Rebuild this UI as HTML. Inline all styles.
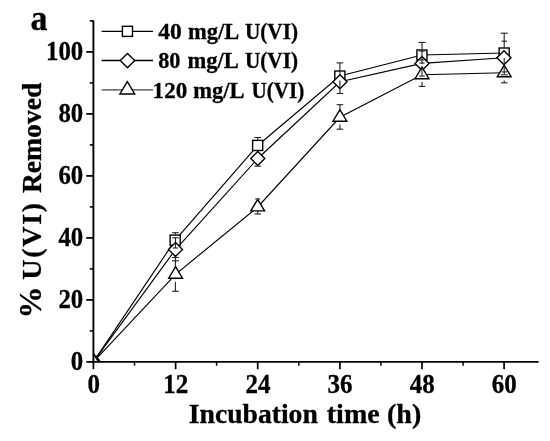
<!DOCTYPE html><html><head><meta charset="utf-8"><title>a</title><style>html,body{margin:0;padding:0;background:#fff}svg{display:block}text{font-family:"Liberation Serif",serif;font-weight:bold;fill:#000;stroke:#000;stroke-width:0.3px}</style></head><body>
<svg width="550" height="441" viewBox="0 0 550 441">
<rect width="550" height="441" fill="#fff"/>
<polyline fill="none" stroke="#000" stroke-width="1.15" points="93.4,361.9 175.2,240.2 257.7,145.5 339.9,76.0 422.0,55.0 504.2,53.0"/>
<polyline fill="none" stroke="#000" stroke-width="1.15" points="93.4,361.9 175.5,249.5 257.8,158.5 340.0,81.8 422.0,63.4 504.0,57.7"/>
<polyline fill="none" stroke="#000" stroke-width="1.15" points="93.4,361.9 175.6,274.3 257.7,207.0 339.9,117.3 422.0,74.8 504.2,72.8"/>
<clipPath id="c"><rect x="93.4" y="340" width="30" height="21.9"/></clipPath>
<polygon points="94.4,354.9 101.3,366.5 87.5,366.5" fill="#fff" stroke="#000" stroke-width="1.40" clip-path="url(#c)"/>
<line x1="95.4" y1="356" x2="99.8" y2="361.6" stroke="#000" stroke-width="2.2" clip-path="url(#c)"/>
<rect x="170.1" y="235.1" width="10.1" height="10.1" fill="#fff" stroke="#000" stroke-width="1.40"/>
<rect x="252.6" y="140.4" width="10.1" height="10.1" fill="#fff" stroke="#000" stroke-width="1.40"/>
<rect x="334.8" y="71.0" width="10.1" height="10.1" fill="#fff" stroke="#000" stroke-width="1.40"/>
<rect x="416.9" y="50.0" width="10.1" height="10.1" fill="#fff" stroke="#000" stroke-width="1.40"/>
<rect x="499.1" y="48.0" width="10.1" height="10.1" fill="#fff" stroke="#000" stroke-width="1.40"/>
<polygon points="175.5,242.5 182.5,249.5 175.5,256.5 168.5,249.5" fill="#fff" stroke="#000" stroke-width="1.40"/>
<polygon points="257.8,151.5 264.8,158.5 257.8,165.5 250.8,158.5" fill="#fff" stroke="#000" stroke-width="1.40"/>
<polygon points="340.0,74.8 347.0,81.8 340.0,88.8 333.0,81.8" fill="#fff" stroke="#000" stroke-width="1.40"/>
<polygon points="422.0,56.4 429.0,63.4 422.0,70.4 415.0,63.4" fill="#fff" stroke="#000" stroke-width="1.40"/>
<polygon points="504.0,50.7 511.0,57.7 504.0,64.7 497.0,57.7" fill="#fff" stroke="#000" stroke-width="1.40"/>
<polygon points="175.6,266.6 182.5,278.2 168.7,278.2" fill="#fff" stroke="#000" stroke-width="1.40" />
<polygon points="257.7,199.3 264.6,210.9 250.8,210.9" fill="#fff" stroke="#000" stroke-width="1.40" />
<polygon points="339.9,109.6 346.8,121.2 333.0,121.2" fill="#fff" stroke="#000" stroke-width="1.40" />
<polygon points="422.0,67.1 428.9,78.7 415.1,78.7" fill="#fff" stroke="#000" stroke-width="1.40" />
<polygon points="504.2,65.1 511.1,76.7 497.3,76.7" fill="#fff" stroke="#000" stroke-width="1.40" />
<line x1="172.1" y1="232.7" x2="178.7" y2="232.7" stroke="#222" stroke-width="1.10"/>
<line x1="175.4" y1="232.7" x2="175.4" y2="234.7" stroke="#222" stroke-width="1.10"/>
<line x1="172.1" y1="237.8" x2="178.7" y2="237.8" stroke="#222" stroke-width="1.10"/>
<line x1="175.4" y1="237.8" x2="175.4" y2="242.3" stroke="#222" stroke-width="1.10"/>
<line x1="175.4" y1="243.0" x2="175.4" y2="248.0" stroke="#222" stroke-width="1.10"/>
<line x1="172.8" y1="248.0" x2="178.0" y2="248.0" stroke="#222" stroke-width="1.10"/>
<line x1="175.4" y1="256.6" x2="175.4" y2="266.6" stroke="#222" stroke-width="1.10"/>
<line x1="171.9" y1="257.5" x2="178.9" y2="257.5" stroke="#222" stroke-width="1.10"/>
<line x1="171.9" y1="260.8" x2="178.9" y2="260.8" stroke="#222" stroke-width="1.10"/>
<line x1="175.4" y1="281.8" x2="175.4" y2="291.3" stroke="#222" stroke-width="1.10"/>
<line x1="172.1" y1="291.3" x2="178.7" y2="291.3" stroke="#222" stroke-width="1.10"/>
<line x1="254.4" y1="137.5" x2="261.0" y2="137.5" stroke="#222" stroke-width="1.10"/>
<line x1="257.7" y1="137.5" x2="257.7" y2="140.2" stroke="#222" stroke-width="1.10"/>
<line x1="254.4" y1="166.2" x2="261.0" y2="166.2" stroke="#222" stroke-width="1.10"/>
<line x1="257.7" y1="165.6" x2="257.7" y2="166.2" stroke="#222" stroke-width="1.10"/>
<line x1="255.2" y1="198.9" x2="260.2" y2="198.9" stroke="#222" stroke-width="1.10"/>
<line x1="257.7" y1="211.0" x2="257.7" y2="214.0" stroke="#222" stroke-width="1.10"/>
<line x1="254.4" y1="214.0" x2="261.0" y2="214.0" stroke="#222" stroke-width="1.10"/>
<line x1="336.6" y1="62.9" x2="343.2" y2="62.9" stroke="#222" stroke-width="1.10"/>
<line x1="339.9" y1="62.9" x2="339.9" y2="74.6" stroke="#222" stroke-width="1.10"/>
<line x1="339.9" y1="80.6" x2="339.9" y2="93.5" stroke="#222" stroke-width="1.10"/>
<line x1="336.6" y1="93.5" x2="343.2" y2="93.5" stroke="#222" stroke-width="1.10"/>
<line x1="336.6" y1="104.7" x2="343.2" y2="104.7" stroke="#222" stroke-width="1.10"/>
<line x1="339.9" y1="104.7" x2="339.9" y2="109.4" stroke="#222" stroke-width="1.10"/>
<line x1="339.9" y1="124.6" x2="339.9" y2="129.2" stroke="#222" stroke-width="1.10"/>
<line x1="336.6" y1="129.2" x2="343.2" y2="129.2" stroke="#222" stroke-width="1.10"/>
<line x1="418.4" y1="42.4" x2="425.6" y2="42.4" stroke="#222" stroke-width="1.10"/>
<line x1="422.0" y1="42.4" x2="422.0" y2="49.4" stroke="#222" stroke-width="1.10"/>
<line x1="419.2" y1="51.1" x2="424.8" y2="51.1" stroke="#222" stroke-width="1.10"/>
<line x1="422.0" y1="51.1" x2="422.0" y2="57.0" stroke="#222" stroke-width="1.10"/>
<line x1="419.4" y1="60.0" x2="424.6" y2="60.0" stroke="#222" stroke-width="1.10"/>
<line x1="419.4" y1="63.0" x2="424.6" y2="63.0" stroke="#222" stroke-width="1.10"/>
<line x1="422.0" y1="58.0" x2="422.0" y2="64.0" stroke="#222" stroke-width="1.10"/>
<line x1="422.0" y1="67.5" x2="422.0" y2="76.1" stroke="#222" stroke-width="1.10"/>
<line x1="419.2" y1="76.1" x2="424.8" y2="76.1" stroke="#222" stroke-width="1.10"/>
<line x1="422.0" y1="82.0" x2="422.0" y2="86.4" stroke="#222" stroke-width="1.10"/>
<line x1="418.7" y1="86.4" x2="425.3" y2="86.4" stroke="#222" stroke-width="1.10"/>
<line x1="500.7" y1="33.2" x2="507.7" y2="33.2" stroke="#222" stroke-width="1.10"/>
<line x1="504.2" y1="33.2" x2="504.2" y2="47.8" stroke="#222" stroke-width="1.10"/>
<line x1="501.4" y1="41.2" x2="507.0" y2="41.2" stroke="#222" stroke-width="1.10"/>
<line x1="504.2" y1="58.0" x2="504.2" y2="74.0" stroke="#222" stroke-width="1.10"/>
<line x1="501.4" y1="71.9" x2="507.0" y2="71.9" stroke="#222" stroke-width="1.10"/>
<line x1="500.6" y1="74.8" x2="507.8" y2="74.8" stroke="#222" stroke-width="1.10"/>
<line x1="504.2" y1="80.5" x2="504.2" y2="82.8" stroke="#222" stroke-width="1.10"/>
<line x1="500.9" y1="82.8" x2="507.5" y2="82.8" stroke="#222" stroke-width="1.10"/>
<line x1="93.4" y1="20.6" x2="93.4" y2="362.8" stroke="#000" stroke-width="1.9"/>
<line x1="92.4" y1="361.9" x2="538.6" y2="361.9" stroke="#000" stroke-width="1.9"/>
<line x1="86.3" y1="361.9" x2="93.4" y2="361.9" stroke="#000" stroke-width="1.8"/>
<line x1="89.8" y1="330.9" x2="93.4" y2="330.9" stroke="#000" stroke-width="1.6"/>
<line x1="86.3" y1="299.9" x2="93.4" y2="299.9" stroke="#000" stroke-width="1.8"/>
<line x1="89.8" y1="268.9" x2="93.4" y2="268.9" stroke="#000" stroke-width="1.6"/>
<line x1="86.3" y1="237.9" x2="93.4" y2="237.9" stroke="#000" stroke-width="1.8"/>
<line x1="89.8" y1="206.9" x2="93.4" y2="206.9" stroke="#000" stroke-width="1.6"/>
<line x1="86.3" y1="175.9" x2="93.4" y2="175.9" stroke="#000" stroke-width="1.8"/>
<line x1="89.8" y1="144.9" x2="93.4" y2="144.9" stroke="#000" stroke-width="1.6"/>
<line x1="86.3" y1="113.9" x2="93.4" y2="113.9" stroke="#000" stroke-width="1.8"/>
<line x1="89.8" y1="82.9" x2="93.4" y2="82.9" stroke="#000" stroke-width="1.6"/>
<line x1="86.3" y1="51.9" x2="93.4" y2="51.9" stroke="#000" stroke-width="1.8"/>
<line x1="89.8" y1="20.9" x2="93.4" y2="20.9" stroke="#000" stroke-width="1.6"/>
<line x1="93.4" y1="361.9" x2="93.4" y2="369.2" stroke="#000" stroke-width="1.7"/>
<line x1="134.5" y1="361.9" x2="134.5" y2="365.7" stroke="#000" stroke-width="1.5"/>
<line x1="175.6" y1="361.9" x2="175.6" y2="369.2" stroke="#000" stroke-width="1.7"/>
<line x1="216.6" y1="361.9" x2="216.6" y2="365.7" stroke="#000" stroke-width="1.5"/>
<line x1="257.7" y1="361.9" x2="257.7" y2="369.2" stroke="#000" stroke-width="1.7"/>
<line x1="298.8" y1="361.9" x2="298.8" y2="365.7" stroke="#000" stroke-width="1.5"/>
<line x1="339.9" y1="361.9" x2="339.9" y2="369.2" stroke="#000" stroke-width="1.7"/>
<line x1="380.9" y1="361.9" x2="380.9" y2="365.7" stroke="#000" stroke-width="1.5"/>
<line x1="422.0" y1="361.9" x2="422.0" y2="369.2" stroke="#000" stroke-width="1.7"/>
<line x1="463.1" y1="361.9" x2="463.1" y2="365.7" stroke="#000" stroke-width="1.5"/>
<line x1="504.1" y1="361.9" x2="504.1" y2="369.2" stroke="#000" stroke-width="1.7"/>
<text x="70.8" y="369.7" font-size="26.5" textLength="12.4" lengthAdjust="spacingAndGlyphs">0</text>
<text x="58.4" y="307.7" font-size="26.5" textLength="24.8" lengthAdjust="spacingAndGlyphs">20</text>
<text x="58.4" y="245.7" font-size="26.5" textLength="24.8" lengthAdjust="spacingAndGlyphs">40</text>
<text x="58.4" y="183.7" font-size="26.5" textLength="24.8" lengthAdjust="spacingAndGlyphs">60</text>
<text x="58.4" y="121.7" font-size="26.5" textLength="24.8" lengthAdjust="spacingAndGlyphs">80</text>
<text x="46.0" y="59.7" font-size="26.5" textLength="37.2" lengthAdjust="spacingAndGlyphs">100</text>
<text x="87.4" y="393.3" font-size="26.5" textLength="12.5" lengthAdjust="spacingAndGlyphs">0</text>
<text x="163.2" y="393.3" font-size="26.5" textLength="25.0" lengthAdjust="spacingAndGlyphs">12</text>
<text x="245.4" y="393.3" font-size="26.5" textLength="25.0" lengthAdjust="spacingAndGlyphs">24</text>
<text x="327.6" y="393.3" font-size="26.5" textLength="25.0" lengthAdjust="spacingAndGlyphs">36</text>
<text x="409.7" y="393.3" font-size="26.5" textLength="25.0" lengthAdjust="spacingAndGlyphs">48</text>
<text x="491.8" y="393.3" font-size="26.5" textLength="25.0" lengthAdjust="spacingAndGlyphs">60</text>
<text y="423.4" font-size="28"><tspan x="188.8" textLength="129" lengthAdjust="spacingAndGlyphs">Incubation</tspan> <tspan x="326.8">time</tspan> <tspan x="387">(h)</tspan></text>
<text transform="translate(40.9,316) rotate(-90)" font-size="28"><tspan x="-2.6" font-size="32">%</tspan> <tspan x="36.2" textLength="77" lengthAdjust="spacing">U(VI)</tspan> <tspan x="122.9" textLength="110.5" lengthAdjust="spacingAndGlyphs">Removed</tspan></text>
<text x="30.5" y="29.6" font-size="36" textLength="17" lengthAdjust="spacingAndGlyphs">a</text>
<line x1="101.6" y1="31.4" x2="153" y2="31.4" stroke="#000" stroke-width="1.4"/>
<line x1="101.6" y1="60.5" x2="153" y2="60.5" stroke="#000" stroke-width="1.4"/>
<line x1="101.6" y1="89.9" x2="153" y2="89.9" stroke="#777" stroke-width="1.6"/>
<rect x="122.4" y="26.3" width="10.1" height="10.1" fill="#fff" stroke="#000" stroke-width="1.40"/>
<polygon points="127.5,53.4 134.7,60.6 127.5,67.8 120.3,60.6" fill="#fff" stroke="#000" stroke-width="1.40"/>
<polygon points="127.3,81.7 134.7,94.0 119.9,94.0" fill="#fff" stroke="#000" stroke-width="1.40" />
<text y="39.1" font-size="22.5"><tspan x="158.3" font-size="23.5">40</tspan> <tspan x="188">mg/L</tspan> <tspan x="245" textLength="53" lengthAdjust="spacingAndGlyphs">U(VI)</tspan></text>
<text y="68.3" font-size="22.5"><tspan x="158.2" font-size="23.5" textLength="22.3" lengthAdjust="spacingAndGlyphs">80</tspan> <tspan x="187.6">mg/L</tspan> <tspan x="245" textLength="53" lengthAdjust="spacingAndGlyphs">U(VI)</tspan></text>
<text y="97.6" font-size="22.5"><tspan x="152.6" font-size="23.5" textLength="34.6" lengthAdjust="spacingAndGlyphs">120</tspan> <tspan x="193.3">mg/L</tspan> <tspan x="251.4" textLength="53" lengthAdjust="spacingAndGlyphs">U(VI)</tspan></text>
</svg></body></html>
